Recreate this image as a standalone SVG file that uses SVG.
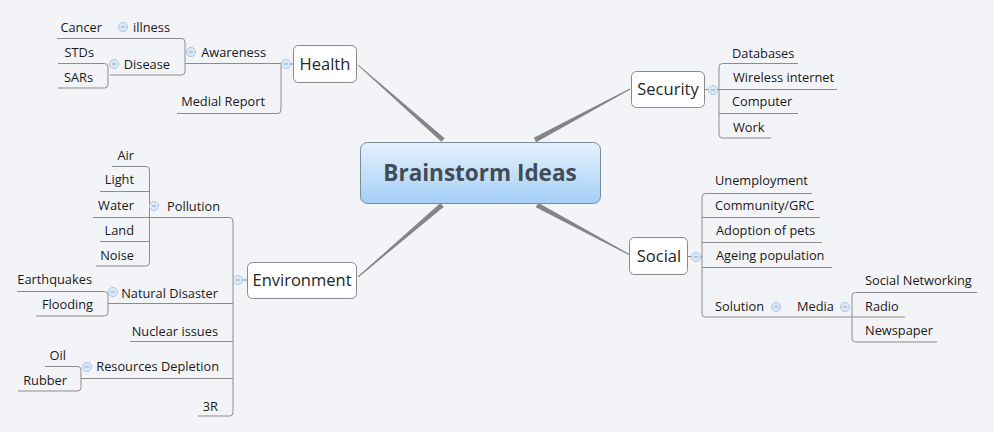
<svg xmlns="http://www.w3.org/2000/svg" width="994" height="432" viewBox="0 0 994 432">
<defs>
<linearGradient id="cg" x1="0" y1="0" x2="0" y2="1">
<stop offset="0" stop-color="#e4f1fd"/>
<stop offset="1" stop-color="#a4cff6"/>
</linearGradient>
<symbol id="col" viewBox="-5 -5 10 10" overflow="visible">
<circle r="4.6" fill="#dde8f5" stroke="#a9c2e0" stroke-width="0.9"/>
<line x1="-2.2" y1="0" x2="2.2" y2="0" stroke="#88a6cc" stroke-width="1"/>
</symbol>
</defs>
<style>
.t{font-family:"Open Sans","Noto Sans",sans-serif;font-size:12.8px;fill:#1a1a1a}
.e{text-anchor:end}
.n{font-family:"Open Sans","Noto Sans",sans-serif;font-size:16.5px;fill:#262626;text-anchor:middle}
.box{fill:#ffffff;stroke:#8a8a8a;stroke-width:1}
.ln{fill:none;stroke:#8c8c8c;stroke-width:1}
.main{fill:#858585}
</style>
<rect width="994" height="432" fill="#f3f4f8"/>

<g id="connectors">
<polygon class="main" points="444.65,138.13 358.33,64.63 357.67,65.37 441.35,141.87"/>
<polygon class="main" points="536.18,142.2 630.24,89.44 629.76,88.56 533.82,137.8"/>
<polygon class="main" points="443.63,206.9 358.33,277.38 357.67,276.62 440.37,203.1"/>
<polygon class="main" points="535.82,207.2 629.76,255.44 630.24,254.56 538.18,202.8"/>
<path class="ln" d="M185 63.5 H281 V110 Q281 113.5 277.5 113.5 H177 M281 64 H293"/>
<path class="ln" d="M57 38.5 H181.5 Q185 38.5 185 42 V71.5 Q185 75 181.5 75 H110"/>
<path class="ln" d="M58 63.5 H104.5 Q108 63.5 108 67 V84.5 Q108 88 104.5 88 H58"/>
<path class="ln" d="M798 63.5 H722.5 Q719 63.5 719 67 V134.5 Q719 138 722.5 138 H771 M705 89.5 H837 M719 113.5 H798"/>
<path class="ln" d="M150 217.5 H229.5 Q233 217.5 233 221 V412.5 Q233 416 229.5 416 H198 M233 280 H247 M108 303.5 H233 M130 341.5 H233 M81 378.5 H233"/>
<path class="ln" d="M112 166.5 H146 Q149.5 166.5 149.5 170 V262.5 Q149.5 266 146 266 H96 M100 191.5 H149.5 M93 217.5 H150 M100 241.5 H149.5"/>
<path class="ln" d="M17 291.5 H104.5 Q108 291.5 108 295 V312.5 Q108 316 104.5 316 H36"/>
<path class="ln" d="M45 366.5 H77.5 Q81 366.5 81 370 V387.5 Q81 391 77.5 391 H18"/>
<path class="ln" d="M812 193.5 H705.5 Q702 193.5 702 197 V313.5 Q702 317 705.5 317 H905 M702 217.5 H820 M702 242.5 H822 M702 267.5 H832 M688 256.5 H702"/>
<path class="ln" d="M977 292.5 H855.5 Q852 292.5 852 296 V338.5 Q852 342 855.5 342 H937"/>
<use href="#col" x="281" y="59" width="10" height="10"/>
<use href="#col" x="186" y="47" width="10" height="10"/>
<use href="#col" x="109" y="59" width="10" height="10"/>
<use href="#col" x="118" y="22" width="10" height="10"/>
<use href="#col" x="708" y="85" width="10" height="10"/>
<use href="#col" x="233" y="275" width="10" height="10"/>
<use href="#col" x="149" y="201" width="10" height="10"/>
<use href="#col" x="108" y="287" width="10" height="10"/>
<use href="#col" x="82" y="362" width="10" height="10"/>
<use href="#col" x="691" y="252" width="10" height="10"/>
<use href="#col" x="771" y="302" width="10" height="10"/>
<use href="#col" x="840" y="302" width="10" height="10"/>
</g>

<g id="center">
<rect x="360.5" y="142.5" width="240" height="61" rx="7" fill="url(#cg)" stroke="#7d8a98" stroke-width="1"/>
<text x="480" y="181" text-anchor="middle" font-family="Open Sans, Noto Sans, sans-serif" font-weight="bold" font-size="22.5" fill="#424c57">Brainstorm Ideas</text>
</g>

<g id="health">
<rect class="box" x="293.5" y="45.5" width="63" height="37" rx="5"/>
<text class="n" x="325" y="70">Health</text>
</g>
<g id="awareness"><text class="t e" x="266" y="56.5">Awareness</text></g>
<g id="illness"><text class="t e" x="170" y="31.5">illness</text></g>
<g id="cancer"><text class="t e" x="102" y="31.5">Cancer</text></g>
<g id="disease"><text class="t e" x="170" y="68.5">Disease</text></g>
<g id="stds"><text class="t e" x="94" y="56.5">STDs</text></g>
<g id="sars"><text class="t e" x="93" y="81.5">SARs</text></g>
<g id="medial"><text class="t e" x="265" y="105.5">Medial Report</text></g>

<g id="security">
<rect class="box" x="631.5" y="71.5" width="73" height="36" rx="5"/>
<text class="n" x="668" y="95">Security</text>
</g>
<g id="databases"><text class="t" x="732" y="57.5">Databases</text></g>
<g id="wireless"><text class="t" x="733" y="81.5">Wireless internet</text></g>
<g id="computer"><text class="t" x="732" y="105.5">Computer</text></g>
<g id="work"><text class="t" x="733" y="131.5">Work</text></g>

<g id="environment">
<rect class="box" x="247.5" y="262.5" width="109" height="36" rx="5"/>
<text class="n" x="302" y="286">Environment</text>
</g>
<g id="pollution"><text class="t" x="167" y="210.5">Pollution</text></g>
<g id="air"><text class="t e" x="134" y="159.5">Air</text></g>
<g id="light"><text class="t e" x="134" y="183.5">Light</text></g>
<g id="water"><text class="t e" x="134" y="209.5">Water</text></g>
<g id="land"><text class="t e" x="134" y="234.5">Land</text></g>
<g id="noise"><text class="t e" x="134" y="259.5">Noise</text></g>
<g id="natural"><text class="t e" x="218" y="297.5">Natural Disaster</text></g>
<g id="earthquakes"><text class="t e" x="92" y="283.5">Earthquakes</text></g>
<g id="flooding"><text class="t e" x="93" y="308.5">Flooding</text></g>
<g id="nuclear"><text class="t e" x="218" y="335.5">Nuclear issues</text></g>
<g id="resources"><text class="t e" x="219" y="370.5">Resources Depletion</text></g>
<g id="oil"><text class="t e" x="66" y="359.5">Oil</text></g>
<g id="rubber"><text class="t e" x="67" y="384.5">Rubber</text></g>
<g id="threeR"><text class="t e" x="218" y="410.5">3R</text></g>

<g id="social">
<rect class="box" x="629.5" y="237.5" width="58" height="37" rx="5"/>
<text class="n" x="659" y="262">Social</text>
</g>
<g id="unemployment"><text class="t" x="715" y="184.5">Unemployment</text></g>
<g id="community"><text class="t" x="715" y="209.5">Community/GRC</text></g>
<g id="adoption"><text class="t" x="716" y="234.5">Adoption of pets</text></g>
<g id="ageing"><text class="t" x="716" y="259.5">Ageing population</text></g>
<g id="solution"><text class="t" x="715" y="310.5">Solution</text></g>
<g id="media"><text class="t" x="797" y="310.5">Media</text></g>
<g id="socialnet"><text class="t" x="865" y="284.5">Social Networking</text></g>
<g id="radio"><text class="t" x="865" y="310.5">Radio</text></g>
<g id="newspaper"><text class="t" x="865" y="334.5">Newspaper</text></g>
</svg>
